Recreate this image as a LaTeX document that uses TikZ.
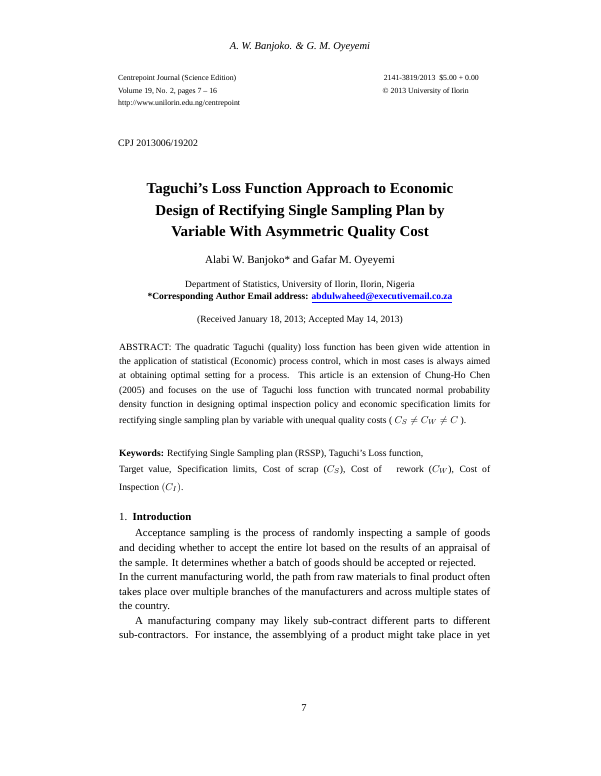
\documentclass[tikz,border=0pt]{standalone}
\usepackage{fontspec}
\setmainfont{Liberation Serif}
\begin{document}
\begin{tikzpicture}[x=1pt,y=-1pt,
  ln/.style={anchor=base west,inner sep=0pt},
  lc/.style={anchor=base,inner sep=0pt},
  ab/.style={ln,font=\fontsize{9.6}{11}\selectfont},
  bd/.style={ln,font=\fontsize{10.8}{13}\selectfont}]
\useasboundingbox (0,0) rectangle (600,776);
\fill[white] (0,0) rectangle (600,776);
\newcommand\JJ[1]{\makebox[371pt][s]{#1}}
\newcommand\JI[1]{\makebox[355pt][s]{#1}}
\node[lc,font=\fontsize{10.5}{12}\selectfont\itshape] (hdr) at (300,50) {A. W. Banjoko. \& G. M. Oyeyemi};
\node[ln,font=\fontsize{7.8}{9}\selectfont] (j1) at (118,81) {Centrepoint Journal (Science Edition)};
\node[ln,font=\fontsize{7.8}{9}\selectfont] (j2) at (118,93) {Volume 19, No. 2, pages 7 -- 16};
\node[ln,font=\fontsize{7.8}{9}\selectfont] (j3) at (118,105) {http://www.unilorin.edu.ng/centrepoint};
\node[anchor=base east,inner sep=0pt,font=\fontsize{7.8}{9}\selectfont] (j4) at (479,81) {2141-3819/2013 \ \$5.00 + 0.00};
\node[anchor=base east,inner sep=0pt,font=\fontsize{7.8}{9}\selectfont] (j5) at (469,93) {© 2013 University of Ilorin};
\node[ln,font=\fontsize{9.8}{11}\selectfont] (cpj) at (118,146) {CPJ 2013006/19202};
\node[lc,font=\fontsize{15}{18}\selectfont\bfseries] (t1) at (300,193) {Taguchi’s Loss Function Approach to Economic};
\node[lc,font=\fontsize{15}{18}\selectfont\bfseries] (t2) at (300,215) {Design of Rectifying Single Sampling Plan by};
\node[lc,font=\fontsize{15}{18}\selectfont\bfseries] (t3) at (300,236) {Variable With Asymmetric Quality Cost};
\node[lc,font=\fontsize{11}{13}\selectfont] (au) at (300,263) {Alabi W. Banjoko* and Gafar M. Oyeyemi};
\node[lc,font=\fontsize{9.5}{11}\selectfont] (dep) at (300,287) {Department of Statistics, University of Ilorin, Ilorin, Nigeria};
\node[lc,font=\fontsize{9.5}{11}\selectfont] (cor) at (300,299) {\textbf{*Corresponding Author Email address:} \textcolor{blue}{\textbf{\underline{abdulwaheed@executivemail.co.za}}}};
\node[lc,font=\fontsize{9.5}{11}\selectfont] (rec) at (300,322) {(Received January 18, 2013; Accepted May 14, 2013)};
% abstract
\node[ab] (a1) at (119,350) {\JJ{ABSTRACT: The quadratic Taguchi (quality) loss function has been given wide attention in}};
\node[ab] (a2) at (119,364) {\JJ{the application of statistical (Economic) process control, which in most cases is always aimed}};
\node[ab] (a3) at (119,378) {\JJ{at obtaining optimal setting for a process. This article is an extension of Chung-Ho Chen}};
\node[ab] (a4) at (119,393) {\JJ{(2005) and focuses on the use of Taguchi loss function with truncated normal probability}};
\node[ab] (a5) at (119,407) {\JJ{density function in designing optimal inspection policy and economic specification limits for}};
\node[ab] (a6) at (119,423) {rectifying single sampling plan by variable with unequal quality costs ( $C_S\neq C_W\neq C$ ).};
\node[ab] (k1) at (119,456) {\textbf{Keywords:} Rectifying Single Sampling plan (RSSP), Taguchi’s Loss function,};
\node[ab] (k2) at (119,472) {\JJ{Target value, Specification limits, Cost of scrap ($C_S$), Cost of \ \ rework ($C_W$), Cost of}};
\node[ab] (k3) at (119,490) {Inspection $(C_I)$.};
% intro
\node[ln,font=\fontsize{10.8}{13}\selectfont] (ih) at (119,520) {1.\ \ \textbf{Introduction}};
\node[bd] (b1) at (135,536) {\JI{Acceptance sampling is the process of randomly inspecting a sample of goods}};
\node[bd] (b2) at (119,551) {\JJ{and deciding whether to accept the entire lot based on the results of an appraisal of}};
\node[bd] (b3) at (119,566) {the sample. It determines whether a batch of goods should be accepted or rejected.};
\node[bd] (b4) at (119,580) {\JJ{In the current manufacturing world, the path from raw materials to final product often}};
\node[bd] (b5) at (119,595) {\JJ{takes place over multiple branches of the manufacturers and across multiple states of}};
\node[bd] (b6) at (119,609) {the country.};
\node[bd] (b7) at (135,624) {\JI{A manufacturing company may likely sub-contract different parts to different}};
\node[bd] (b8) at (119,638) {\JJ{sub-contractors. For instance, the assemblying of a product might take place in yet}};
\node[lc,font=\fontsize{10.5}{12}\selectfont] (pg) at (304,711) {7};
\end{tikzpicture}
\end{document}
